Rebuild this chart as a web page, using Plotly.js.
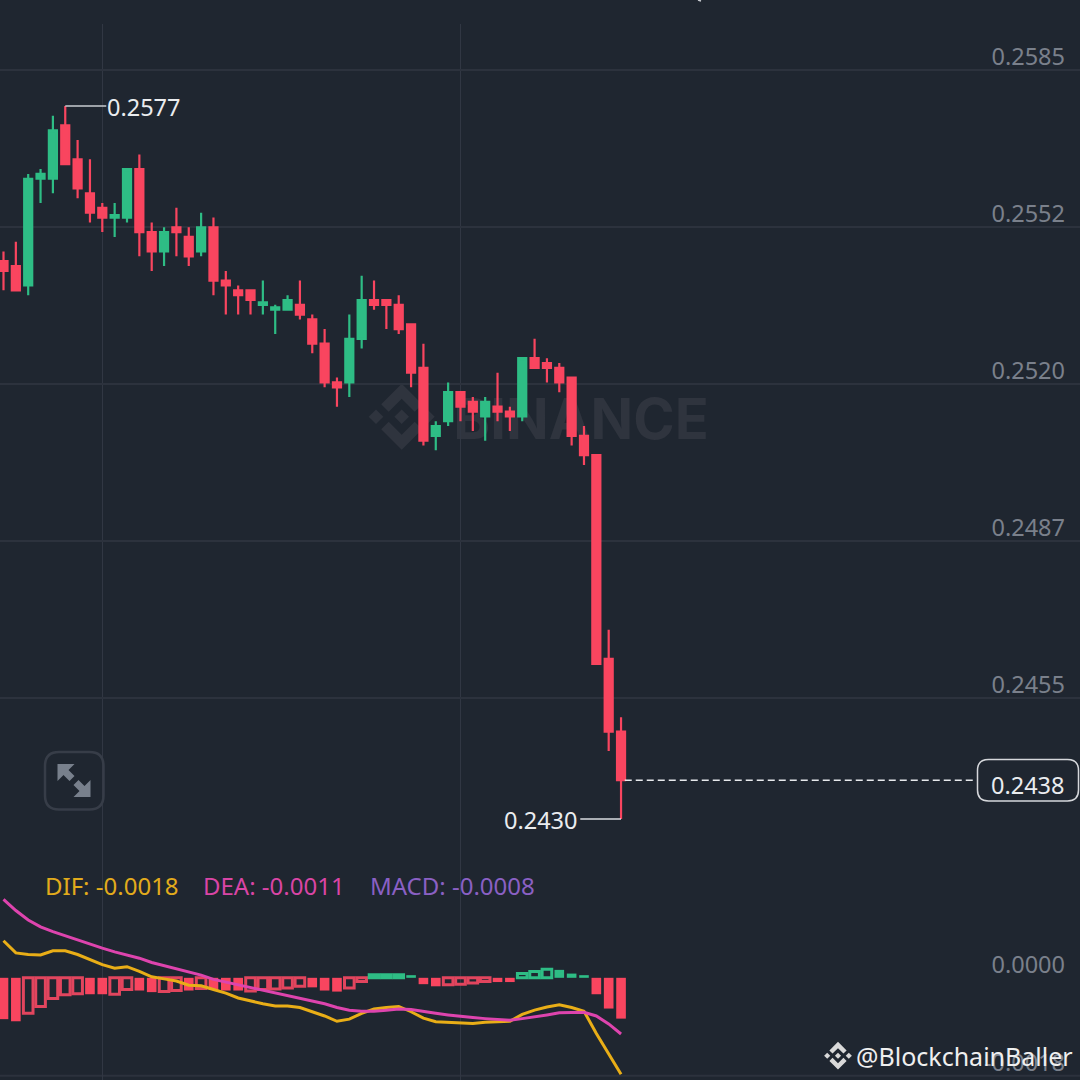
<!DOCTYPE html>
<html>
<head>
<meta charset="utf-8">
<script src="https://cdn.plot.ly/plotly-3.0.1.min.js"></script>
<style>html,body{margin:0;padding:0;background:#1F2630}#c{width:1080px;height:1080px}</style>
</head>
<body>
<div id="c"></div>
<script>
const openP =[.2545,.2544,.2540,.2562,.2562,.2573,.2566,.2559,.2556,.25540,.2554,.2564,.2551,.2547,.2552,.2550,.2547,.2552,.2541,.2539,.2539,.2536,.2535,.2535,.2536,.2533,.2528,.2520,.2520,.2529,.2537,.2537,.2536,.2532,.2523,.2509,.2512,.2518,.2516,.2513,.2515,.2514,.2513,.2525,.2524,.2523,.2521,.2509,.2505,.2463,.2448];
const highP =[.2547,.2549,.2563,.2564,.2575,.2577,.2570,.2566,.2557,.2557,.2564,.2567,.2553,.2552,.2556,.2552,.2555,.2554,.2543,.2540,.2539,.2541,.2536,.2538,.2541,.2534,.2531,.2521,.2534,.2542,.2541,.2537,.2538,.2532,.2528,.2512,.2520,.2518,.2517,.2517,.2522,.2515,.2525,.2529,.2525,.2524,.2521,.2511,.2505,.2469,.2451];
const lowP  =[.2539,.2539,.2538,.2557,.2559,.2565,.2558,.2553,.2551,.2550,.2553,.2546,.2543,.2544,.2546,.2544,.2546,.2538,.2534,.2534,.2534,.2534,.2530,.2535,.2533,.2526,.2519,.2515,.2517,.2527,.2535,.2531,.2530,.2519,.2507,.2506,.2511,.2512,.2510,.2508,.2512,.2510,.2512,.2523,.2520,.2518,.2507,.2503,.2462,.2444,.2430];
const closeP=[.2543,.2539,.2562,.2563,.2572,.2565,.2560,.2555,.2554,.25545,.2564,.2551,.2547,.2551,.2551,.2546,.2552,.2541,.2540,.2538,.2537,.25365,.25355,.2537,.2534,.2528,.2520,.2519,.2529,.2537,.2536,.2536,.2531,.2522,.2508,.2511,.2518,.2515,.2514,.2516,.2514,.2513,.2525,.2523,.2523,.2520,.2509,.2505,.2462,.2448,.2438];
const dif=[.00070,.00047,.00044,.00043,.00051,.00051,.00044,.00035,.00025,.00018,.00021,.00012,.00002,-.00002,-.00006,-.00014,-.00015,-.00022,-.00029,-.00038,-.00044,-.00049,-.00053,-.00053,-.00056,-.00064,-.00072,-.00082,-.00078,-.00067,-.00059,-.00056,-.00054,-.00064,-.00076,-.00083,-.00084,-.00085,-.00086,-.00084,-.00083,-.00082,-.00069,-.00061,-.00055,-.00051,-.00056,-.00063,-.00105,-.00144,-.00182];
const dea=[.00148,.00127,.00109,.00096,.00087,.00079,.00071,.00064,.00056,.00049,.00043,.00037,.00029,.00023,.00017,.00010,.00005,-.00003,-.00008,-.00014,-.00019,-.00024,-.00029,-.00034,-.00038,-.00044,-.00049,-.00056,-.00061,-.00063,-.00063,-.00061,-.00059,-.00060,-.00064,-.00067,-.00070,-.00073,-.00075,-.00077,-.00078,-.00080,-.00077,-.00074,-.00070,-.00066,-.00065,-.00065,-.00072,-.00087,-.00106];
const macd=[-.00078,-.00082,-.00067,-.00054,-.00039,-.00032,-.00030,-.00031,-.00031,-.00031,-.00022,-.00024,-.00027,-.00026,-.00024,-.00024,-.00020,-.00023,-.00024,-.00024,-.00025,-.00022,-.00021,-.00019,-.00016,-.00018,-.00024,-.00026,-.00019,-.00007,.00006,.00006,.00006,.00005,-.00012,-.00016,-.00013,-.00012,-.00010,-.00007,-.00008,-.00008,.00008,.00012,.00016,.00015,.00008,.00005,-.00031,-.00058,-.00077];
const macdHollow=[0,0,1,1,1,1,1,0,0,1,1,0,0,1,1,0,1,0,0,0,1,1,1,1,1,0,0,0,1,1,1,1,1,0,0,0,1,1,1,1,0,0,1,1,1,0,0,0,0,0,0];
const index=openP.map((_,i)=>i);
const priceTicks=[.25939,.25844,.25521,.25197,.24874,.24550,.24226];
const priceLabels=['','0.2585','0.2552','0.2520','0.2487','0.2455','0.2422'];
const macdTicks=[0,-.00185];
const macdLabels=['0.0000','-0.0018'];
const lastPrice=.2438, highMark=.2577, lowMark=.2430;
const legendItems=[['DIF: -0.0018',43,'#E2AB1C'],['DEA: -0.0011',201,'#D945A5'],['MACD: -0.0008',368,'#8A60C4']];

const BG='#1F2630',RED='#F9455F',GREEN='#2EBD85',GRID='#2C323D',TICK='#7A808B',FONT='"Noto Sans",sans-serif';
const PX=p=>p/1080, PY=p=>1-p/1080;
function poly(points,cx,cy,s){
  return 'M'+points.map(q=>PX(cx+q[0]*s)+','+PY(cy+q[1]*s)).join(' L')+' Z';
}
const logoParts=[
 [[0,-33],[20.5,-12.5],[13,-5],[0,-18],[-13,-5],[-20.5,-12.5]],
 [[0,33],[20.5,12.5],[13,5],[0,18],[-13,5],[-20.5,12.5]],
 [[-33,0],[-25.7,-7.3],[-18.4,0],[-25.7,7.3]],
 [[33,0],[25.7,-7.3],[18.4,0],[25.7,7.3]],
 [[0,-7.3],[7.3,0],[0,7.3],[-7.3,0]]
];
const logo=(cx,cy,s,color,layer)=>logoParts.map(p=>({type:'path',xref:'paper',yref:'paper',path:poly(p,cx,cy,s),fillcolor:color,line:{width:0},layer}));
function rrect(x0,y0,x1,y1,r){
  const a=PX,b=PY;
  return `M${a(x0+r)},${b(y0)} L${a(x1-r)},${b(y0)} Q${a(x1)},${b(y0)} ${a(x1)},${b(y0+r)} L${a(x1)},${b(y1-r)} Q${a(x1)},${b(y1)} ${a(x1-r)},${b(y1)} L${a(x0+r)},${b(y1)} Q${a(x0)},${b(y1)} ${a(x0)},${b(y1-r)} L${a(x0)},${b(y0+r)} Q${a(x0)},${b(y0)} ${a(x0+r)},${b(y0)} Z`;
}
const arrow=[[-16.5,-16.5],[0.5,-16.5],[-5.5,-10.5],[0.5,-4.5],[-4.5,0.5],[-10.5,-5.5],[-16.5,0.5]];
const shapes=[
 ...logo(401.7,416.7,1,'#2F343E','below'),
 {type:'rect',xref:'paper',yref:'paper',x0:PX(450),x1:PX(712),y0:PY(444),y1:PY(390),line:{width:0},fillcolor:'rgba(0,0,0,0)',layer:'below',
  label:{text:'<b>BINANCE</b>',font:{family:'Inter,sans-serif',size:56,color:'#2F343E'},textposition:'middle center'}},
 {type:'line',xref:'paper',yref:'y2',x0:0,x1:1,y0:macdTicks[1],y1:macdTicks[1],line:{color:GRID,width:2},layer:'below'},
 {type:'line',xref:'x',yref:'y',x0:50.3,x1:78.5,y0:lastPrice,y1:lastPrice,line:{color:'#E6E8EB',width:1.5,dash:'7px,4px'}},
 {type:'line',xref:'x',yref:'y',x0:5,x1:8.32,y0:highMark,y1:highMark,line:{color:'#C9CCD1',width:1.5}},
 {type:'line',xref:'x',yref:'y',x0:46.7,x1:50,y0:lowMark,y1:lowMark,line:{color:'#DADCE0',width:1.5}},
 {type:'path',xref:'paper',yref:'paper',path:rrect(977.5,759.5,1078.5,801,11),line:{color:'#D5D7DB',width:1.5},fillcolor:BG},
 {type:'path',xref:'paper',yref:'paper',path:rrect(45,752,103.5,809.5,14),line:{color:'#373D48',width:2.5},fillcolor:'rgba(0,0,0,0)'},
 {type:'path',xref:'paper',yref:'paper',path:poly(arrow,74,780.5,1),fillcolor:'#78808C',line:{width:0}},
 {type:'path',xref:'paper',yref:'paper',path:poly(arrow,74,780.5,-1),fillcolor:'#78808C',line:{width:0}},
 {type:'line',xref:'paper',yref:'paper',x0:PX(698),x1:PX(701),y0:PY(0),y1:PY(1),line:{color:'#C9CCD1',width:1.5}},
 ...logo(838,1055.7,.42,'#D9D9D9','above')
];
const ann=(text,xpx,ypx,size,color,anchor)=>({text,xref:'paper',yref:'paper',x:PX(xpx),y:PY(ypx),xanchor:anchor||'left',yanchor:'middle',showarrow:false,font:{family:FONT,size,color}});
const annotations=[
 ...legendItems.map(l=>ann(l[0],l[1],885,24,l[2])),
 {text:'0.2577',xref:'x',yref:'y',x:5,y:highMark,xshift:39.5,yshift:-1,xanchor:'left',yanchor:'middle',showarrow:false,font:{family:FONT,size:23.5,color:'#EAECEF'}},
 {text:'0.2430',xref:'x',yref:'y',x:50,y:lowMark,xshift:-41,yshift:-1,xanchor:'right',yanchor:'middle',showarrow:false,font:{family:FONT,size:23.5,color:'#EAECEF'}},
 ann('0.2438',1067,785,23.5,'#EAECEF','right'),
 ann('@BlockchainBaller',1075,1056,25,'#EFEFEF','right')
];
const traces=[
 {type:'candlestick',x:index,open:openP,high:highP,low:lowP,close:closeP,xaxis:'x',yaxis:'y',whiskerwidth:0,
  increasing:{line:{color:GREEN,width:2.2},fillcolor:GREEN},decreasing:{line:{color:RED,width:2.2},fillcolor:RED},hoverinfo:'skip',showlegend:false},
 {type:'bar',x:index,y:macd,xaxis:'x',yaxis:'y2',width:.78,hoverinfo:'skip',showlegend:false,
  marker:{color:macd.map((v,i)=>macdHollow[i]?'rgba(0,0,0,0)':(v<0?RED:GREEN)),
          line:{color:macd.map(v=>v<0?'#E2455E':'#2EBD85'),width:macdHollow.map(h=>h?3:0)}}},
 {type:'scatter',mode:'lines',x:index,y:dif,xaxis:'x',yaxis:'y2',line:{color:'#E9AE17',width:3},hoverinfo:'skip',showlegend:false},
 {type:'scatter',mode:'lines',x:index,y:dea,xaxis:'x',yaxis:'y2',line:{color:'#DE44AE',width:3},hoverinfo:'skip',showlegend:false}
];
const layout={
 width:1080,height:1080,margin:{l:0,r:0,t:0,b:0},paper_bgcolor:BG,plot_bgcolor:BG,showlegend:false,
 boxgap:.35,boxgroupgap:0,font:{family:FONT},
 xaxis:{domain:[0,1],range:[-.283,87.16],anchor:'y2',tickmode:'array',tickvals:[8,37],showticklabels:false,ticks:'',showgrid:true,gridcolor:'#313743',gridwidth:1,zeroline:false,showline:false,rangeslider:{visible:false},fixedrange:true},
 yaxis:{domain:[.20833,.97778],range:[.242258,.25939],side:'right',anchor:'x',tickmode:'array',tickvals:priceTicks,ticktext:priceLabels,ticklabelposition:'inside',ticklabelstandoff:12,ticklabelshift:-13,ticks:'',tickfont:{family:FONT,size:23.5,color:TICK},showgrid:true,gridcolor:GRID,gridwidth:2,zeroline:false,showline:false,fixedrange:true},
 yaxis2:{domain:[0,.20833],range:[-.001928,.002317],side:'right',anchor:'x',tickmode:'array',tickvals:macdTicks,ticktext:macdLabels,ticklabelposition:'inside',ticklabelstandoff:12,ticklabelshift:-13,ticks:'',tickfont:{family:FONT,size:23.5,color:TICK},showgrid:false,zeroline:false,showline:false,fixedrange:true},
 shapes,annotations
};
Plotly.newPlot('c',traces,layout,{displayModeBar:false,staticPlot:true});
</script>
</body>
</html>
